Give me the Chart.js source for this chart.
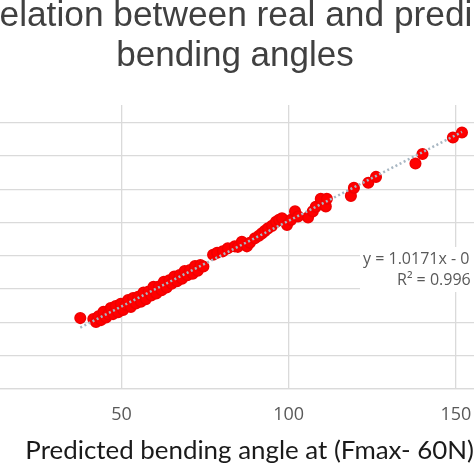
<!DOCTYPE html>
<html>
<head>
<meta charset="utf-8">
<script src="https://cdn.jsdelivr.net/npm/chart.js@4/dist/chart.umd.min.js"></script>
<style>
  html, body { margin: 0; padding: 0; background: #fff; overflow: hidden; }
  #wrap { width: 474px; height: 474px; position: relative; }
</style>
</head>
<body>
<div id="wrap"><canvas id="grafico"></canvas></div>
<script>
// ── Datos ─────────────────────────────────────────────────────────────────
const titleLines = ['Correlation between real and predicted', 'bending angles'];
const xTitle = 'Predicted bending angle at (Fmax- 60N)';
const eqLines = ['y = 1.0171x - 0', 'R² = 0.996'];

const xTicks = [50, 100, 150];
const yTicks = [0, 20, 40, 60, 80, 100, 120, 140, 160];

// ángulo predicho (x) y real (y)
const predX = [
  37.7,
  41.6, 42.4, 43.1, 43.9, 44.6, 45.4, 46.0, 46.8, 47.5, 48.3, 49.0, 49.8,
  50.5, 51.3, 52.0, 52.8, 53.5, 54.3, 55.0, 55.8, 56.6, 57.3, 58.1, 58.9,
  59.6, 60.4, 61.2, 62.0, 62.7, 63.5, 64.3, 65.0, 65.8, 66.6, 67.4, 68.1,
  68.9, 69.7, 70.5, 71.3, 72.0, 72.8, 73.6, 74.5,
  77.4, 78.6, 80.3, 81.8, 83.9, 84.8, 86.0, 87.5, 88.4, 89.9, 91.1, 92.0,
  92.9, 93.8, 95.0, 96.2, 97.1, 98.0, 99.5, 100.7, 101.9, 102.8, 105.8,
  107.2, 108.1, 109.6, 111.1, 111.4, 118.6, 119.5, 123.8, 126.1, 137.9,
  140.0, 149.1, 151.8,
];
const realY = [
  42.6,
  42.0, 40.3, 43.6, 41.4, 46.3, 43.0, 44.9, 48.6, 45.0, 49.9, 46.1, 51.2,
  47.5, 50.6, 53.5, 49.3, 54.6, 51.4, 55.4, 52.4, 57.9, 54.0, 58.6, 56.2,
  61.4, 57.4, 61.6, 59.3, 64.4, 61.0, 65.3, 63.2, 67.6, 64.7, 68.4, 66.2,
  70.8, 68.3, 71.5, 69.2, 73.8, 71.0, 74.4, 73.6,
  80.6, 81.8, 82.7, 84.5, 85.7, 85.4, 88.4, 85.7, 87.8, 90.5, 92.0, 93.5,
  95.0, 96.5, 98.0, 100.4, 101.6, 102.5, 98.6, 101.6, 106.7, 103.7, 103.1,
  106.7, 109.4, 114.2, 109.7, 114.2, 116.0, 120.8, 123.9, 127.4, 135.5,
  141.2, 151.1, 154.1,
];

// extremos de la línea de tendencia (punteada)
const trendX = [37.7, 151.8];
const trendY = [36.9, 154.4];

// ── Título (recortado por los bordes, como en la imagen) ─────────────────
const bigTitle = {
  id: 'bigTitle',
  afterDraw(chart) {
    const ctx = chart.ctx;
    ctx.save();
    ctx.fillStyle = '#404040';
    ctx.textBaseline = 'alphabetic';
    // primera línea: sólo se ve "elation ... predi", de x=0 a x=473
    ctx.font = '35px "Liberation Sans", Arial';
    const seg = ctx.measureText('elation between real and predi').width;
    const size = 35 * 473 / seg;
    ctx.font = size + 'px "Liberation Sans", Arial';
    ctx.textAlign = 'left';
    ctx.fillText(titleLines[0], -0.5 - ctx.measureText('Corr').width, 26);
    ctx.font = '35px "Liberation Sans", Arial';
    ctx.textAlign = 'center';
    ctx.fillText(titleLines[1], 235, 66);
    ctx.restore();
  },
};

// ── Recuadro con la ecuación de la tendencia ──────────────────────────────
const eqLabel = {
  id: 'eqLabel',
  beforeDatasetsDraw(chart) {
    const ctx = chart.ctx;
    ctx.save();
    ctx.fillStyle = '#ffffff';
    ctx.fillRect(360, 247, 120, 45);
    ctx.fillStyle = '#595959';
    ctx.font = '16px "Open Sans"';
    ctx.textAlign = 'left';
    ctx.textBaseline = 'alphabetic';
    ctx.fillText(eqLines[0], 363, 264);
    ctx.fillText(eqLines[1], 397, 285);
    ctx.restore();
  },
};

const gridColor = '#dadada';

new Chart(document.getElementById('grafico'), {
  type: 'scatter',
  data: {
    datasets: [
      {
        type: 'line',
        data: trendX.map((x, i) => ({ x, y: trendY[i] })),
        borderColor: '#a8b7c3',
        borderWidth: 2.5,
        borderDash: [2, 2.6],
        pointRadius: 0,
        fill: false,
        order: 0,
      },
      {
        data: predX.map((x, i) => ({ x, y: realY[i] })),
        backgroundColor: '#ff0000',
        borderColor: '#f00000',
        borderWidth: 1.5,
        pointRadius: 5.3,
        order: 1,
      },
    ],
  },
  plugins: [eqLabel, bigTitle],
  options: {
    responsive: true,
    maintainAspectRatio: false,
    animation: false,
    layout: { autoPadding: false, padding: { top: 105, left: 0, right: 0, bottom: 0 } },
    plugins: {
      legend: { display: false },
      tooltip: { enabled: false },
      title: { display: false },
    },
    scales: {
      x: {
        type: 'linear',
        min: 13.7,
        max: 155.4,
        afterBuildTicks: s => { s.ticks = xTicks.map(v => ({ value: v })); },
        afterFit: s => { s.height = 85; s.paddingLeft = 0; s.paddingRight = 0; },
        grid: { color: gridColor, lineWidth: 1.3, drawTicks: false },
        border: { color: gridColor, width: 1.3 },
        ticks: { color: '#595959', font: { family: '"Open Sans"', size: 18 }, padding: 15 },
        title: {
          display: true,
          text: xTitle,
          align: 'end',
          color: '#1a1a1a',
          font: { family: 'Lato', size: 25.9 },
          padding: { top: 2, bottom: 8 },
        },
      },
      y: {
        type: 'linear',
        min: 0,
        max: 170.6,
        afterBuildTicks: s => { s.ticks = yTicks.map(v => ({ value: v })); },
        afterFit: s => { s.width = 0; s.paddingTop = 0; s.paddingBottom = 0; },
        grid: { color: gridColor, lineWidth: 1.3, drawTicks: false },
        border: { display: false },
        ticks: { display: false },
      },
    },
  },
});
</script>
</body>
</html>
